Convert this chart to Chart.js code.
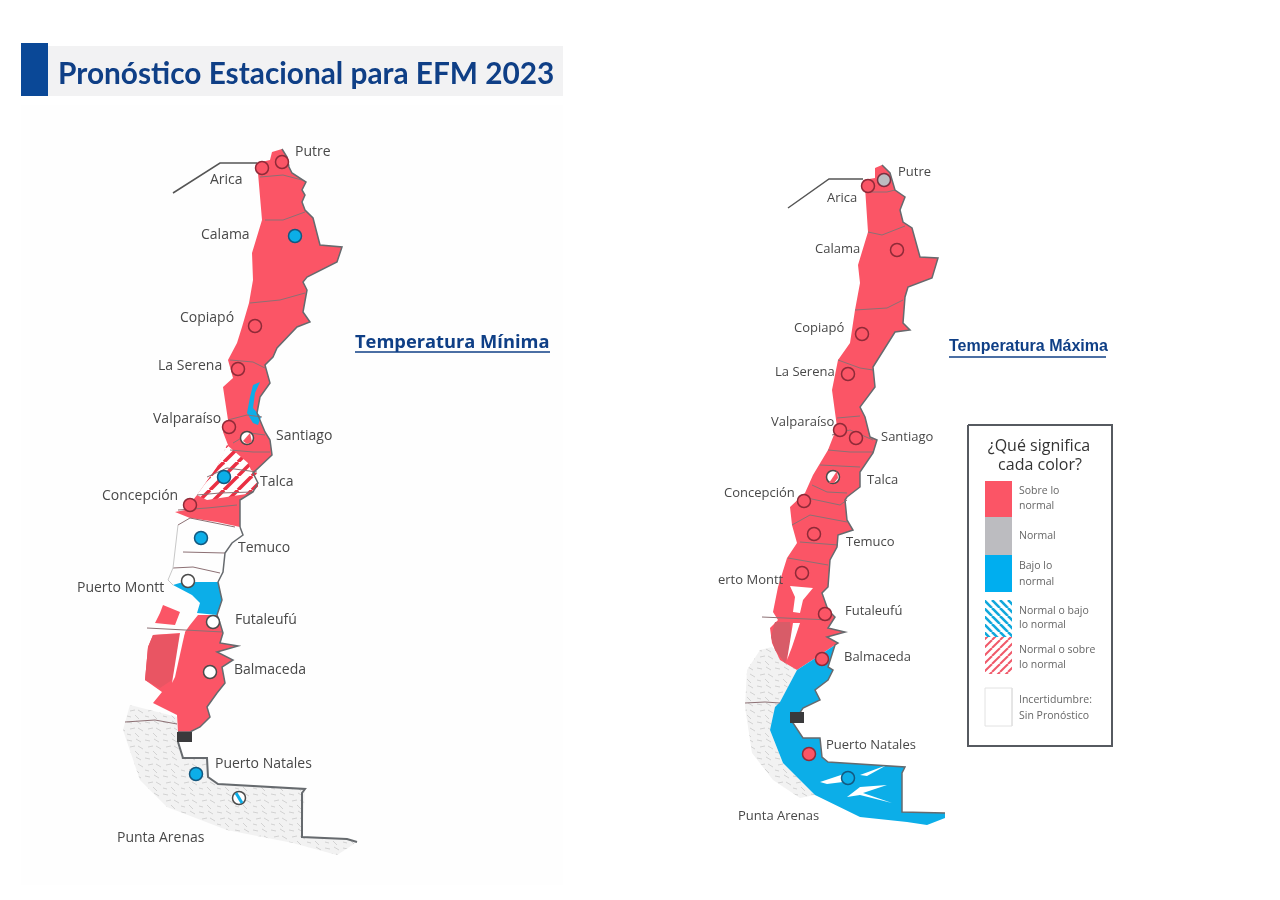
<!DOCTYPE html>
<html lang="es">
<head>
    <meta charset="UTF-8">
    <title>Pronóstico Estacional para EFM 2023</title>
    <style>
        body { margin: 0; background: #fff; }
        canvas { display: block; }
    </style>
    <script src="https://cdn.jsdelivr.net/npm/chart.js"></script>
</head>
<body>
<canvas id="chart" width="1280" height="900"></canvas>
<script>
    const titleText = 'Pronóstico Estacional para EFM 2023';
    const minTitle = 'Temperatura Mínima';
    const maxTitle = 'Temperatura Máxima';

    // left map (minimum temperature)
    const minNorthRed = [[272,152],[282,149],[287,157],[289,167],[292,173],[306,182],[302,190],[305,195],[302,202],[305,210],[313,218],[320,245],[342,247],[337,262],[307,277],[303,282],[307,290],[303,312],[310,322],[297,327],[277,348],[273,357],[265,365],[270,383],[260,397],[257,413],[265,432],[270,440],[272,455],[253,473],[258,483],[253,492],[240,500],[240,527],[217,522],[190,518],[175,512],[185,510],[197,495],[217,467],[228,445],[223,432],[228,420],[223,387],[233,378],[228,360],[237,343],[242,327],[249,303],[253,280],[252,253],[262,220],[258,173],[257,163],[270,160]];
    const minHatch = [[227,445],[248,463],[251,470],[258,474],[258,487],[253,493],[207,500],[197,495],[217,467]];
    const minSliver = [[260,382],[253,385],[250,397],[247,413],[253,423],[258,425],[261,417],[253,408],[255,393]];
    const minBlue = [[173,585],[183,582],[218,582],[222,600],[217,615],[197,613],[200,603],[192,595]];
    const minChiloe = [[163,605],[180,612],[175,625],[155,623],[160,613]];
    const minSouthRed = [[198,615],[217,615],[220,623],[223,633],[220,643],[238,646],[217,652],[233,660],[222,667],[225,683],[217,693],[207,707],[210,717],[200,727],[190,732],[178,732],[177,715],[153,703],[162,692],[145,680],[148,647],[153,635],[180,633],[180,647],[185,632],[190,625]];
    const minDarkRed = [[153,635],[180,634],[178,650],[172,680],[160,688],[145,680],[148,647]];
    const minCrack = [[180,633],[185,632],[175,677],[172,683]];
    const minPatagonia = [[130,705],[177,717],[178,742],[183,758],[207,758],[208,777],[218,784],[305,789],[302,837],[347,839],[357,842],[337,855],[293,843],[227,830],[167,807],[140,780],[123,730]];
    const minBox = [[177,732],[192,732],[192,742],[177,742]];
    const minSouthBorder = [[178,742],[183,758],[207,758],[208,777],[218,784],[305,789],[302,793],[302,837],[347,839],[357,842]];
    const minWhiteEast = [[240,527],[243,535],[232,543],[225,553],[223,572],[218,582],[222,600],[217,615]];
    const minCoast = [[178,525],[173,568],[168,580],[173,585]];
    const minPeru = [[257,163],[220,163],[173,193]];
    const minBands = [
        [[260,177],[283,175],[302,180]],
        [[265,220],[283,220],[305,212]],
        [[250,303],[280,300],[305,293]],
        [[230,360],[253,362],[265,368]],
        [[228,420],[247,415],[262,417]],
        [[233,443],[250,433],[265,435]],
        [[230,450],[253,452],[270,452]],
        [[207,477],[227,468],[257,472]],
        [[197,495],[220,493],[253,492]],
        [[178,510],[207,508],[237,505]],
        [[178,525],[190,518],[235,527]],
        [[183,552],[225,553]],
        [[173,568],[193,567],[220,573]],
        [[147,628],[223,632]],
        [[125,722],[155,720],[177,724]]
    ];
    const minCityPoints = [[282,162],[262,168],[295,236],[255,326],[238,369],[229,427],[247,438],[224,477],[190,505],[201,538],[188,581],[213,622],[210,672],[196,774],[239,798]];
    const minCityFills = ['red','red','blue','red','red','red','white','blue','red','blue','white','white','white','blue','white'];
    const minWedge = [[243,441],[250,433],[252,442],[247,444]];
    const minStripe = [[236,793],[242,803]];

    const minLabelNames = ['Putre','Arica','Calama','Copiapó','La Serena','Valparaíso','Santiago','Talca','Concepción','Temuco','Puerto Montt','Futaleufú','Balmaceda','Puerto Natales','Punta Arenas'];
    const minLabelPoints = [[295,152],[210,180],[201,235],[180,318],[158,366],[153,419],[276,436],[260,482],[102,496],[238,548],[77,588],[235,620],[234,670],[215,764],[117,838]];

    // right map (maximum temperature)
    const maxRed = [[875,168],[882,165],[890,173],[895,190],[905,197],[900,210],[903,222],[912,228],[920,257],[938,258],[932,278],[908,287],[905,297],[903,323],[910,330],[895,332],[873,367],[875,387],[860,407],[865,417],[870,437],[877,440],[873,453],[860,472],[860,487],[847,497],[845,500],[847,520],[853,530],[838,535],[837,547],[830,560],[828,587],[822,593],[828,610],[835,617],[828,628],[845,632],[827,637],[838,643],[817,657],[797,670],[780,660],[772,643],[770,628],[778,620],[773,612],[778,587],[787,558],[797,543],[792,525],[790,507],[805,493],[813,475],[828,450],[837,427],[832,390],[838,360],[850,343],[855,310],[860,283],[858,265],[868,232],[865,187],[863,180],[875,178]];
    const maxDarkRed = [[775,622],[790,622],[792,640],[785,663],[775,650],[771,637]];
    const maxPatch = [[790,586],[813,588],[803,600],[800,613],[793,612],[795,597]];
    const maxCrack = [[793,623],[800,623],[792,647],[787,660]];
    const maxBlue = [[797,670],[817,657],[835,645],[828,667],[833,670],[828,680],[815,690],[820,700],[803,708],[793,723],[803,738],[820,738],[822,757],[828,762],[905,767],[902,773],[902,812],[945,813],[945,818],[927,825],[907,822],[860,817],[815,795],[783,763],[770,730],[775,707],[780,702]];
    const maxCracks = [
        [[820,782],[847,773],[843,782],[827,784]],
        [[860,775],[887,765],[867,776]],
        [[847,797],[860,787],[887,785],[863,793],[892,803],[860,795]]
    ];
    const maxPatagonia = [[760,650],[772,647],[797,670],[780,702],[770,730],[783,763],[815,795],[800,798],[773,780],[752,753],[745,707],[747,670]];
    const maxBox = [[790,712],[804,712],[804,723],[790,723]];
    const maxEastBorder = [[882,165],[890,173],[895,190],[905,197],[900,210],[903,222],[912,228],[920,257],[938,258],[932,278],[908,287],[905,297],[903,323],[910,330],[895,332],[873,367],[875,387],[860,407],[865,417],[870,437],[877,440],[873,453],[860,472],[860,487],[847,497],[845,500],[847,520],[853,530],[838,535],[837,547],[830,560],[828,587],[822,593],[828,610],[835,617],[828,628],[845,632],[827,637],[838,643],[835,645],[828,667],[833,670],[828,680],[815,690],[820,700],[803,708],[793,723],[803,738],[820,738],[822,757],[828,762],[905,767],[902,773],[902,812],[945,813]];
    const maxPeru = [[863,179],[829,179],[788,208]];
    const maxBands = [
        [[865,192],[887,192],[895,190]],
        [[868,232],[882,235],[905,226]],
        [[855,310],[887,308],[903,300]],
        [[838,360],[860,368],[873,370]],
        [[837,418],[860,416]],
        [[832,435],[850,430],[873,440]],
        [[828,450],[850,452],[873,452]],
        [[820,465],[860,467]],
        [[812,485],[827,492],[847,493]],
        [[807,498],[840,505],[847,500]],
        [[792,525],[810,515],[847,522]],
        [[800,542],[838,545]],
        [[788,558],[828,565]],
        [[762,617],[830,620]],
        [[745,703],[765,702],[780,703]]
    ];
    const maxCityPoints = [[884,180],[868,186],[897,250],[862,334],[848,374],[840,430],[856,438],[833,477],[804,501],[814,534],[802,573],[825,614],[822,659],[809,754],[848,778]];
    const maxCityFills = ['grey','red','red','red','red','red','red','white','red','red','red','red','red','red','blue'];
    const maxWedge = [[829,483],[837,471],[838,478],[834,483]];

    const maxLabelNames = ['Putre','Arica','Calama','Copiapó','La Serena','Valparaíso','Santiago','Talca','Concepción','Temuco','erto Montt','Futaleufú','Balmaceda','Puerto Natales','Punta Arenas'];
    const maxLabelPoints = [[898,172],[827,198],[815,249],[794,328],[775,372],[771,422],[881,437],[867,480],[724,493],[846,542],[718,580],[845,611],[844,657],[826,745],[738,816]];

    // legend
    const legendHeading = ['¿Qué significa', 'cada color?'];
    const legendHeadingPoints = [[1039,446],[1040,465]];
    const legendTexts = ['Sobre lo','normal','Normal','Bajo lo','normal','Normal o bajo','lo normal','Normal o sobre','lo normal','Incertidumbre:','Sin Pronóstico'];
    const legendTextPoints = [[1019,491],[1019,506],[1019,536],[1019,566],[1019,582],[1019,611],[1019,625],[1019,650],[1019,665],[1019,700],[1019,716]];
    const legendFrame = [[968,425],[1112,425],[1112,746],[968,746]];
    const legendSwatches = [
        [[985,481],[1012,481],[1012,517],[985,517]],
        [[985,517],[1012,517],[1012,555],[985,555]],
        [[985,555],[1012,555],[1012,592],[985,592]],
        [[985,600],[1012,600],[1012,637],[985,637]],
        [[985,637],[1012,637],[1012,674],[985,674]],
        [[985,688],[1012,688],[1012,726],[985,726]]
    ];

    // title band
    const titleBlock = [[21,43],[48,43],[48,96],[21,96]];
    const titleBand = [[48,46],[563,46],[563,96],[48,96]];
    const backPanel = [[21,105],[563,105],[563,885],[21,885]];

    const RED = '#fb5566';
    const BLUE = '#0caee8';
    const GREY = '#bcbcc0';
    const NAVY = '#0f3f86';
    const TEXT = '#484848';
    const LINE = '#666a6e';
    const FILLS = { red: RED, blue: BLUE, white: '#ffffff', grey: GREY };
    const RINGS = { red: '#8f2a38', blue: '#14587f', white: '#4a4a4a', grey: '#7a3040' };

    function hatch(bg, fg, size, width, flip) {
        const c = document.createElement('canvas');
        c.width = c.height = size;
        const g = c.getContext('2d');
        g.fillStyle = bg;
        g.fillRect(0, 0, size, size);
        g.strokeStyle = fg;
        g.lineWidth = width;
        for (let i = -1; i <= 1; i++) {
            g.beginPath();
            if (flip) {
                g.moveTo(i * size, 0);
                g.lineTo(i * size + size, size);
            } else {
                g.moveTo(i * size, size);
                g.lineTo(i * size + size, 0);
            }
            g.stroke();
        }
        return g.createPattern(c, 'repeat');
    }

    // fine grey texture for the southern islands
    function speckle() {
        const c = document.createElement('canvas');
        c.width = c.height = 18;
        const g = c.getContext('2d');
        g.fillStyle = '#f2f2f2';
        g.fillRect(0, 0, 18, 18);
        g.strokeStyle = '#d2d2d2';
        g.lineWidth = 1;
        [[1,2,6,3],[10,1,15,4],[4,9,9,8],[12,8,17,11],[1,14,5,15],[9,13,13,17]].forEach(s => {
            g.beginPath();
            g.moveTo(s[0], s[1]);
            g.lineTo(s[2], s[3]);
            g.stroke();
        });
        return g.createPattern(c, 'repeat');
    }

    const toXY = list => list.map(p => ({ x: p[0], y: p[1] }));
    const datasets = [];

    function shape(points, color, edge, edgeWidth) {
        datasets.push({
            data: toXY(points.concat([points[0]])),
            showLine: true,
            fill: 'shape',
            backgroundColor: color,
            borderColor: edge || 'transparent',
            borderWidth: edge ? (edgeWidth || 1) : 0,
            pointRadius: 0,
            tension: 0
        });
    }

    function line(points, color, width) {
        datasets.push({
            data: toXY(points),
            showLine: true,
            fill: false,
            borderColor: color,
            borderWidth: width,
            pointRadius: 0,
            tension: 0
        });
    }

    function cities(points, fills) {
        datasets.push({
            data: toXY(points),
            showLine: false,
            pointRadius: 6.5,
            pointBorderWidth: 1.5,
            pointBackgroundColor: fills.map(f => FILLS[f]),
            pointBorderColor: fills.map(f => RINGS[f])
        });
    }

    // painted back to front
    shape(backPanel, '#fefefe');
    shape(titleBand, '#f2f2f3');
    shape(titleBlock, '#0a4897');

    shape(minPatagonia, speckle());
    line(minSouthBorder, LINE, 2);
    shape(minNorthRed, RED);
    shape(minHatch, hatch('#ffffff', '#ea2f43', 14, 3.5, false));
    shape(minSliver, BLUE);
    shape(minBlue, BLUE);
    shape(minChiloe, RED);
    shape(minSouthRed, RED);
    shape(minDarkRed, '#e95563');
    shape(minCrack, '#ffffff');
    minBands.forEach(b => line(b, '#8c7074', 1));
    line(minNorthRed.slice(1, 34), LINE, 1.5);
    line(minSouthRed.slice(1, 16), LINE, 1.5);
    line(minWhiteEast, LINE, 1.5);
    line(minCoast, '#c8c8c8', 1);
    line(minPeru, '#555555', 1.5);
    shape(minBox, '#3a3a3c');
    cities(minCityPoints, minCityFills);
    shape(minWedge, RED);
    line(minStripe, BLUE, 3);

    shape(maxPatagonia, speckle());
    shape(maxRed, RED);
    shape(maxDarkRed, '#d85c68');
    shape(maxPatch, '#ffffff');
    shape(maxCrack, '#ffffff');
    shape(maxBlue, BLUE);
    maxCracks.forEach(p => shape(p, '#ffffff'));
    maxBands.forEach(b => line(b, '#8c7074', 1));
    line(maxEastBorder, LINE, 1.5);
    line(maxPeru, '#555555', 1.5);
    shape(maxBox, '#3a3a3c');
    cities(maxCityPoints, maxCityFills);
    shape(maxWedge, RED);

    line([[355,352],[550,352]], NAVY, 1.5);
    line([[949,357],[1106,357]], NAVY, 1.5);

    shape(legendFrame, '#ffffff', '#565a60', 2);
    shape(legendSwatches[0], RED);
    shape(legendSwatches[1], GREY);
    shape(legendSwatches[2], '#00aeef');
    shape(legendSwatches[3], hatch('#ffffff', '#10a8dc', 8, 2.6, true));
    shape(legendSwatches[4], hatch('#ffffff', '#f0596a', 8, 2, false));
    shape(legendSwatches[5], '#ffffff', '#e2e2e2', 1);

    datasets.forEach((d, i) => { d.order = datasets.length - i; });

    const textPlugin = {
        id: 'mapText',
        afterDatasetsDraw(chart) {
            const g = chart.ctx;
            const sx = chart.scales.x;
            const sy = chart.scales.y;
            const put = (text, p, font, color, align) => {
                g.font = font;
                g.fillStyle = color;
                g.textAlign = align || 'left';
                g.textBaseline = 'middle';
                g.fillText(text, sx.getPixelForValue(p[0]), sy.getPixelForValue(p[1]));
            };
            g.save();
            put(titleText, [58,74], 'bold 29.8px Lato', NAVY);
            put(minTitle, [355,343], 'bold 18.3px "Open Sans"', NAVY);
            put(maxTitle, [949,347], 'bold 16px "Liberation Sans"', NAVY);
            minLabelNames.forEach((n, i) => put(n, minLabelPoints[i], '14px "Open Sans"', TEXT));
            maxLabelNames.forEach((n, i) => put(n, maxLabelPoints[i], '13px "Open Sans"', TEXT));
            legendHeading.forEach((n, i) => put(n, legendHeadingPoints[i], '16px "Open Sans"', '#333333', 'center'));
            legendTexts.forEach((n, i) => put(n, legendTextPoints[i], '10.5px "Open Sans"', '#666666'));
            g.restore();
        }
    };

    new Chart(document.getElementById('chart'), {
        type: 'scatter',
        data: { datasets: datasets },
        plugins: [textPlugin],
        options: {
            responsive: false,
            animation: false,
            layout: { padding: 0, autoPadding: false },
            plugins: { legend: { display: false }, tooltip: { enabled: false } },
            scales: {
                x: { type: 'linear', display: false, min: 0, max: 1280 },
                y: { type: 'linear', display: false, min: 0, max: 900, reverse: true }
            }
        }
    });
</script>
</body>
</html>
